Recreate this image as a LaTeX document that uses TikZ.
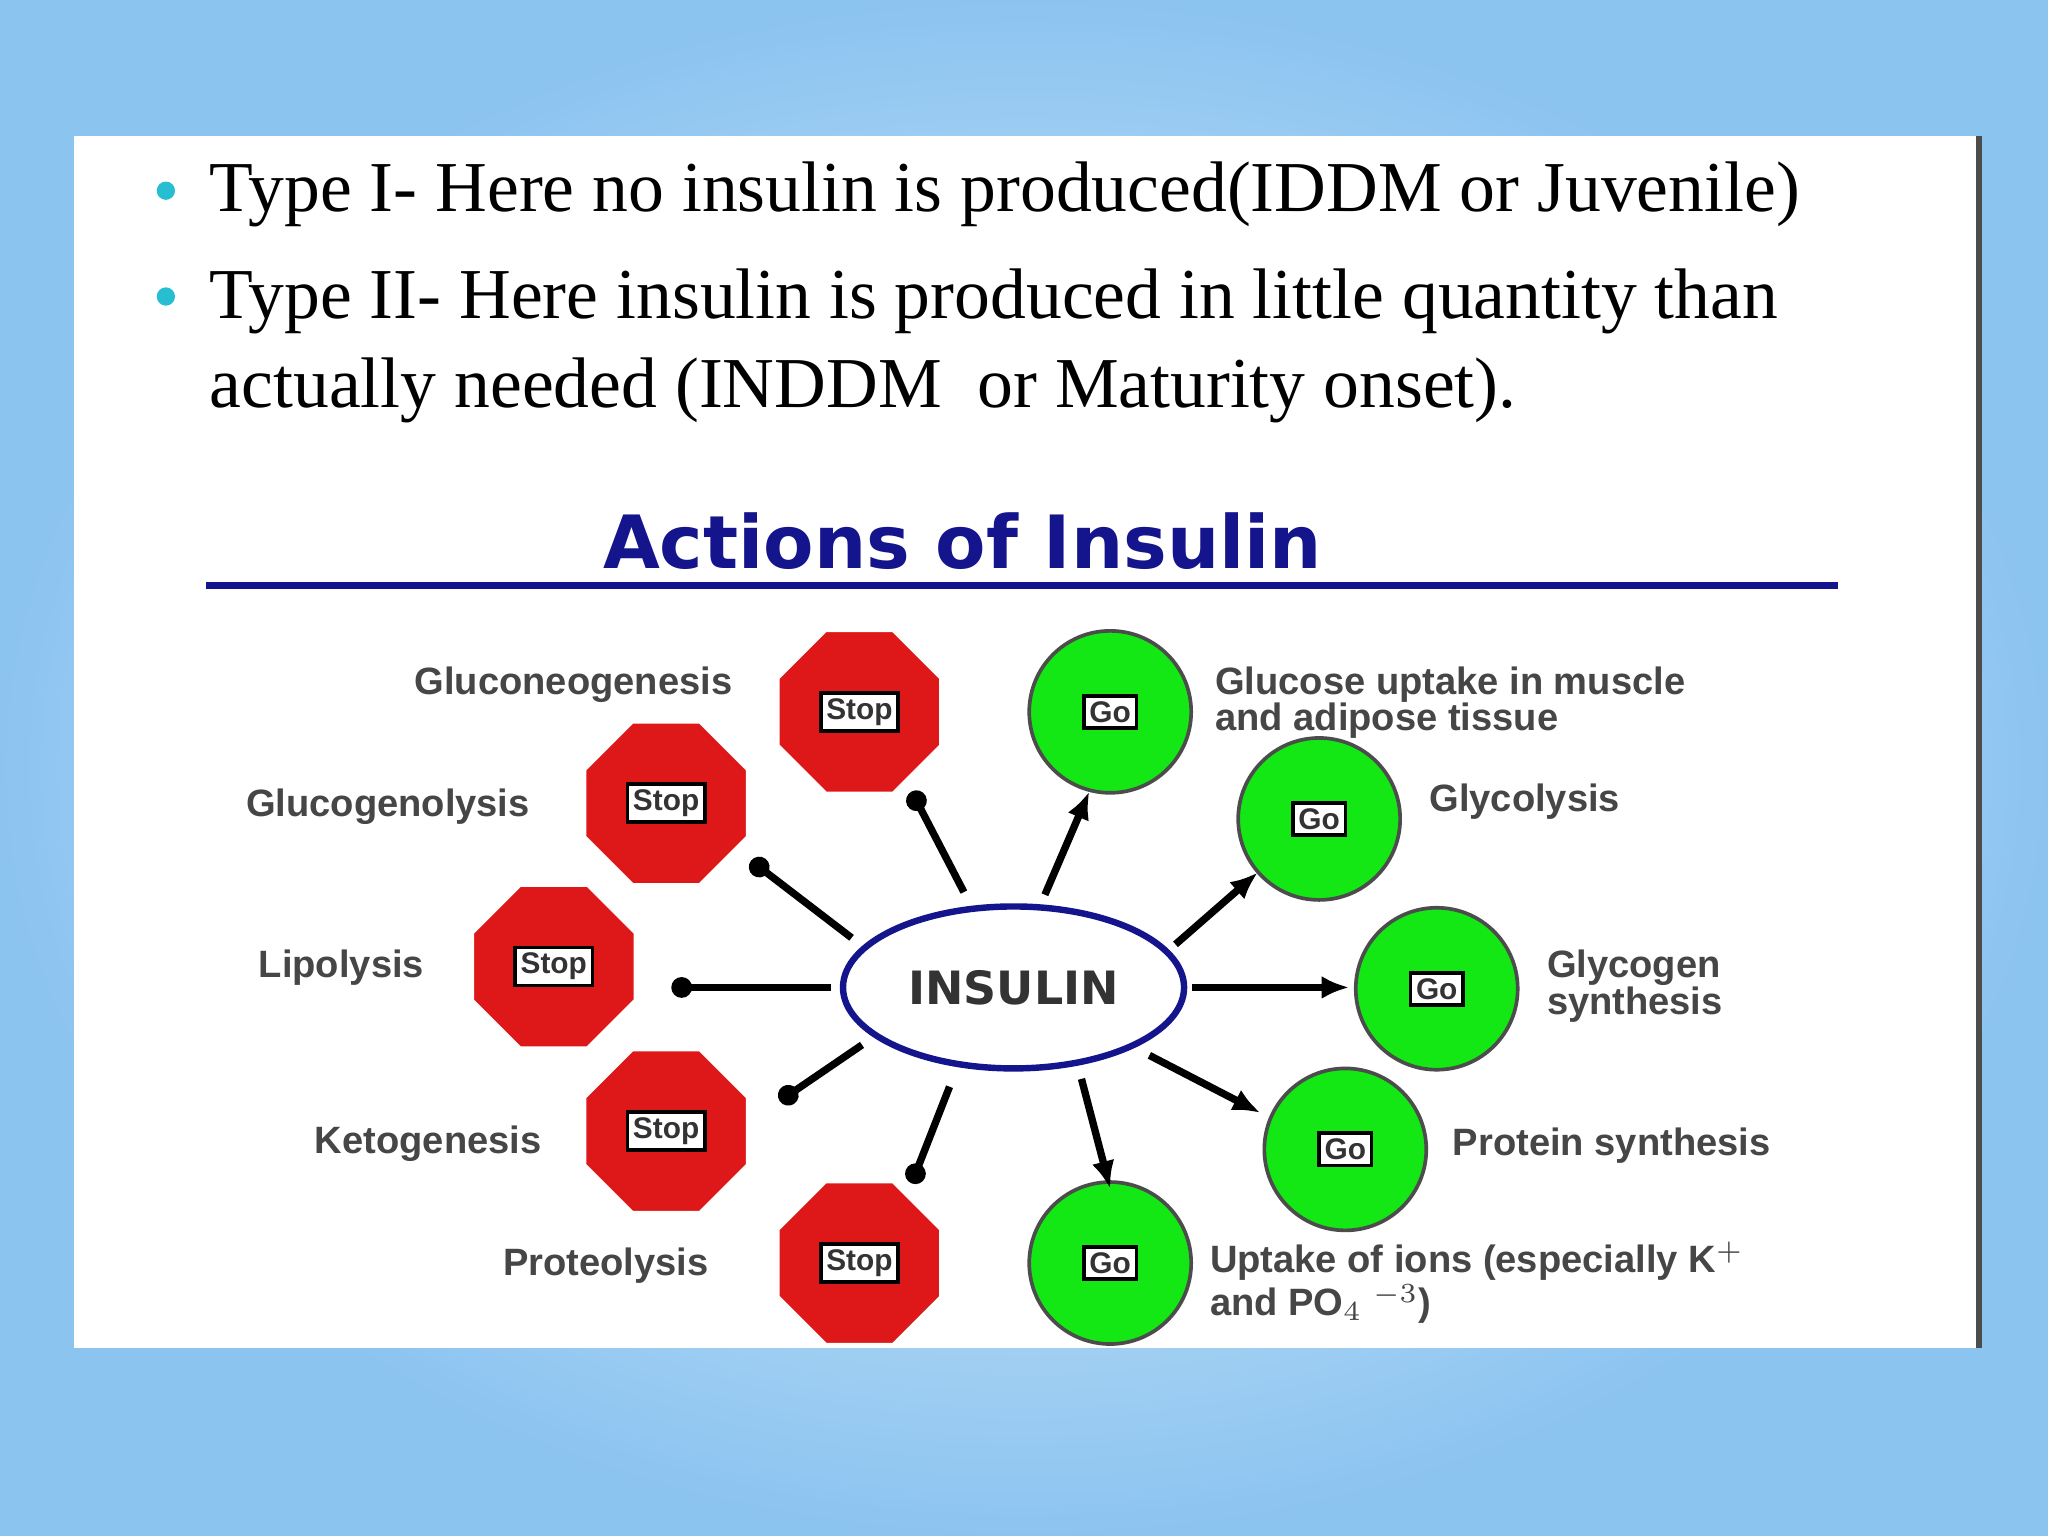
\documentclass[tikz,border=0pt]{standalone}
\usepackage{fontspec}
\setmainfont{Liberation Serif}
\setsansfont{Liberation Sans}
\newfontfamily\titlefont{DejaVu Sans}
\usetikzlibrary{arrows.meta,shapes.geometric}
\definecolor{bgedge}{RGB}{140,196,240}
\definecolor{bgmid}{RGB}{228,241,252}
\definecolor{stopred}{RGB}{222,24,24}
\definecolor{gogreen}{RGB}{20,232,20}
\definecolor{titleblue}{RGB}{20,20,140}
\definecolor{labelgray}{RGB}{70,70,70}
\definecolor{bulletcyan}{RGB}{40,190,210}
\tikzset{
  stopsign/.style={regular polygon, regular polygon sides=8, shape border rotate=0,
    minimum size=13.6mm, fill=stopred, draw=white, line width=1pt, inner sep=0pt},
  gosign/.style={circle, minimum size=12.4mm, inner sep=0pt, fill=gogreen, draw=black!70, line width=0.8pt},
  signtag/.style={draw=black, fill=white, line width=0.8pt, inner sep=1.2pt,
    font=\sffamily\bfseries\fontsize{6.5}{7.5}\selectfont, text=black!80},
  leftlab/.style={anchor=east, font=\sffamily\bfseries\fontsize{8.3}{9}\selectfont, text=labelgray},
  rightlab/.style={anchor=west, align=left, font=\sffamily\bfseries\fontsize{8.3}{8}\selectfont, text=labelgray},
  stopline/.style={line width=1.6pt, -{Circle[length=4.5pt]}},
  goline/.style={line width=1.6pt, -{Latex[length=6pt,width=5pt]}},
  bullettext/.style={anchor=base west, align=left, inner sep=0pt, font=\fontsize{15.6}{19}\selectfont}
}
\begin{document}
\begin{tikzpicture}[x=0.1mm, y=-0.1mm]
  \useasboundingbox (0,0) rectangle (1568,1176);
  \shade[inner color=bgmid, outer color=bgedge] (0,0) rectangle (1568,1176);
  \fill[white] (57,104) rectangle (1515,1032);
  \draw[black!70, line width=1.2pt] (1515,104) -- (1515,1032);
  % bullets
  \fill[bulletcyan] (127,146) circle (7);
  \fill[bulletcyan] (127,227) circle (7);
  \node[bullettext] (typeone) at (160,162) {Type I- Here no insulin is produced(IDDM or Juvenile)};
  \node[bullettext] (typetwo) at (160,244) {Type II- Here insulin is produced in little quantity than};
  \node[bullettext] (typetwob) at (160,312) {actually needed (INDDM\ \ or Maturity onset).};
  % title
  \node[font=\titlefont\bfseries\fontsize{16}{18}\selectfont, text=titleblue] (title) at (737,414) {Actions of Insulin};
  \draw[titleblue, line width=1.5pt] (158,448) -- (1407,448);
  % centre
  \node[ellipse, draw=titleblue, line width=1.4pt, minimum width=25.6mm, minimum height=12.4mm,
    font=\titlefont\bfseries\fontsize{10}{12}\selectfont, text=black!80] (ins) at (776,756) {INSULIN};
  % stop signs
  \foreach \n/\x/\y in {s1/658/545, s2/510/615, s3/424/740, s4/510/866, s5/658/967}{
    \node[stopsign] (\n) at (\x,\y) {};
    \node[signtag] at (\n) {Stop};
  }
  % go signs
  \foreach \n/\x/\y in {g1/850/545, g2/1010/627, g3/1100/757, g4/1030/880, g5/850/967}{
    \node[gosign] (\n) at (\x,\y) {};
    \node[signtag] at (\n) {Go};
  }
  % labels
  \node[leftlab] at (573,524) {Gluconeogenesis};
  \node[leftlab] at (418,618) {Glucogenolysis};
  \node[leftlab] at (337,741) {Lipolysis};
  \node[leftlab] at (427,876) {Ketogenesis};
  \node[leftlab] at (555,969) {Proteolysis};
  \node[rightlab] at (918,538) {Glucose uptake in muscle\\and adipose tissue};
  \node[rightlab] at (1082,614) {Glycolysis};
  \node[rightlab] at (1172,755) {Glycogen\\synthesis};
  \node[rightlab] at (1100,877) {Protein synthesis};
  \node[rightlab] at (914,982) {Uptake of ions (especially K$^{+}$\\and PO$_4$ $^{-3}$)};
  % connectors
  \foreach \a/\b/\c/\d in {738/683/698/606, 652/718/575/659, 636/756/514/756, 660/800/597/843, 727/832/698/906}{
    \draw[stopline] (\a,\b) -- (\c,\d);
  }
  \foreach \a/\b/\c/\d in {800/685/834/606, 900/723/963/668, 913/756/1033/756, 880/808/965/852, 828/826/850/910}{
    \draw[goline] (\a,\b) -- (\c,\d);
  }
\end{tikzpicture}
\end{document}
